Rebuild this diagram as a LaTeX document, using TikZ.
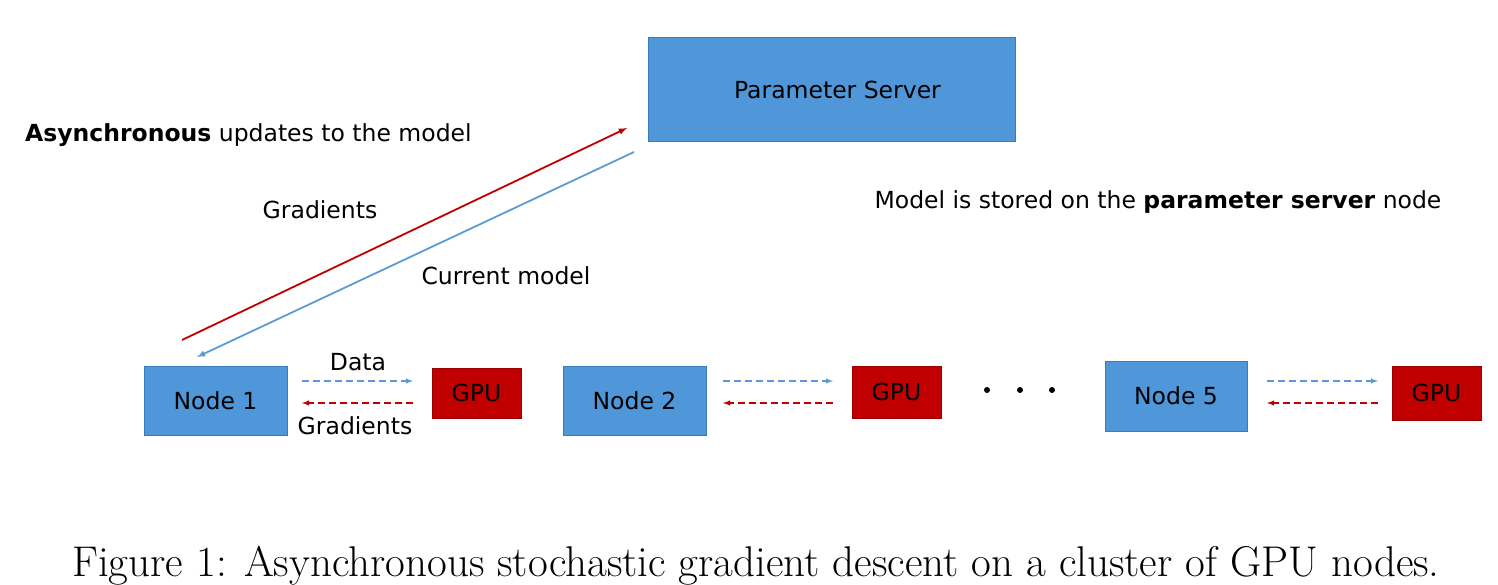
\documentclass[tikz,border=0pt]{standalone}
\usepackage{fontspec}
\newfontfamily\carl{DejaVu Sans}
\definecolor{bl}{HTML}{4F97D8}
\definecolor{bd}{HTML}{3A7CBB}
\definecolor{rd}{HTML}{C00000}
\definecolor{la}{HTML}{5B9BD5}
\begin{document}
\begin{tikzpicture}[x=1pt,y=-1pt,
 box/.style={draw=bd,fill=bl,line width=1pt,inner sep=0pt,font=\carl\fontsize{23.5}{26}\selectfont},
 gpu/.style={fill=rd,draw=rd!80!black,inner sep=0pt,font=\carl\fontsize{23.5}{26}\selectfont},
 lbl/.style={font=\carl\fontsize{23.5}{26}\selectfont,inner sep=0pt},
 da/.style={dash pattern=on 7pt off 4pt,line width=1.4pt,-latex}]
\useasboundingbox (0,0) rectangle (1498,585);
\node[box,minimum width=367pt,minimum height=104pt] (ps) at (831.5,90) {\hspace*{12pt}Parameter Server};
\node[box,minimum width=143pt,minimum height=69pt] (n1) at (215.5,400.5) {Node 1};
\node[box,minimum width=143pt,minimum height=69pt] (n2) at (634.5,400.5) {Node 2};
\node[box,minimum width=142pt,minimum height=70pt] (n5) at (1176,396) {Node 5};
\node[gpu,minimum width=89pt,minimum height=50pt] (g1) at (476.5,393) {GPU};
\node[gpu,minimum width=89pt,minimum height=52pt] (g2) at (896.5,392) {GPU};
\node[gpu,minimum width=89pt,minimum height=54pt] (g5) at (1436.5,393) {GPU};
\foreach \x in {987,1020,1052} \fill (\x,390) circle (3pt);
\coordinate (r1) at (182,340); \coordinate (r2) at (627,128);
\coordinate (b1) at (634,152); \coordinate (b2) at (197,357);
\draw[rd,line width=1.8pt,-latex] (r1) -- (r2);
\draw[la,line width=1.8pt,-latex] (b1) -- (b2);
\node[lbl,anchor=west] (t1) at (25,135) {\textbf{Asynchronous} updates to the model};
\node[lbl] (t2) at (320,210) {Gradients};
\node[lbl] (t3) at (506,276) {Current model};
\node[lbl] (t4) at (1158,202) {Model is stored on the \textbf{parameter server} node};
\node[lbl] (t5) at (358,362) {Data};
\node[lbl] (t6) at (355,426) {Gradients};
\foreach \a/\b in {302/413,723/833,1267/1378}{
 \coordinate (p\a) at (\a,381); \coordinate (q\a) at (\b,381);
 \coordinate (s\a) at (\a,403); \coordinate (u\a) at (\b,403);
 \draw[da,la] (p\a) -- (q\a);
 \draw[da,rd] (u\a) -- (s\a);}
\node[font=\fontsize{43}{46}\selectfont,inner sep=0pt] (cap) at (756,566) {Figure 1: Asynchronous stochastic gradient descent on a cluster of GPU nodes.};
\end{tikzpicture}
\end{document}
